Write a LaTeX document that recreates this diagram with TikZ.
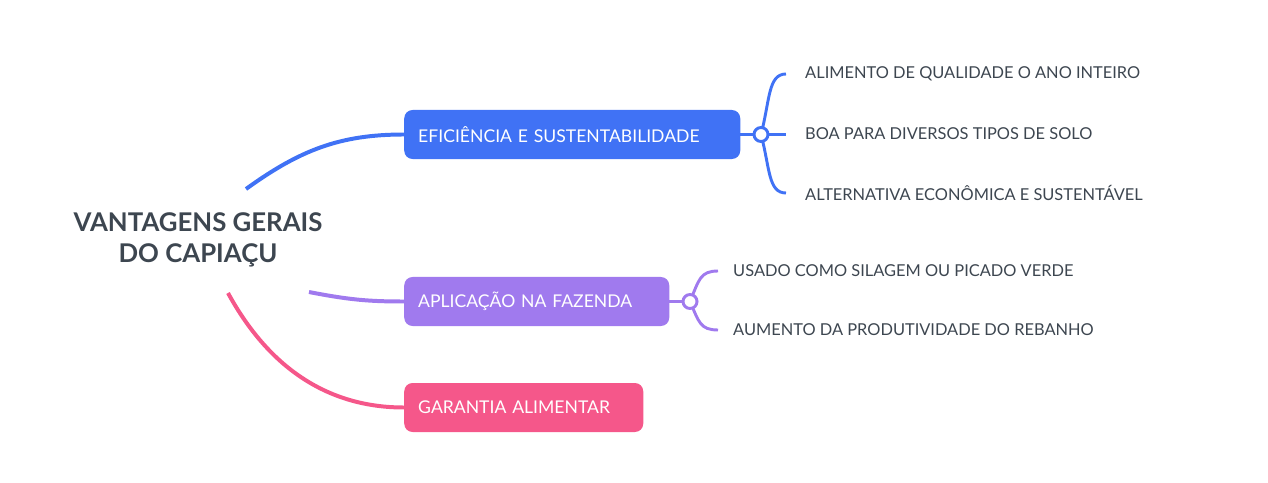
\documentclass[tikz,border=0pt]{standalone}
\usepackage{fontspec}
\setmainfont{Lato}
\definecolor{blu}{RGB}{64,114,245}
\definecolor{pur}{RGB}{160,122,238}
\definecolor{pnk}{RGB}{245,87,138}
\definecolor{ink}{RGB}{61,70,80}
\begin{document}
\begin{tikzpicture}[x=0.03cm,y=-0.03cm,
    branch/.style={rounded corners=0.25cm, anchor=west, minimum height=1.47cm, inner xsep=0.42cm,
      align=left, text=white, font=\fontsize{15}{18}\selectfont},
    leaf/.style={anchor=west, text=ink, inner sep=0pt, font=\fontsize{14}{17}\selectfont},
    knot/.style={circle, draw, line width=2.5pt, fill=white, inner sep=0pt, minimum size=0.42cm}]
    \useasboundingbox (0,0) rectangle (1268,483);
    % Central topic
    \node[text=ink, align=center, font=\bfseries\fontsize{22}{27}\selectfont] (root) at (198,240) {VANTAGENS GERAIS\\DO CAPIAÇU};
    \coordinate (rb) at (246,189);
    \coordinate (rp) at (309,292);
    \coordinate (rk) at (228,293);
    % Main branches
    \node[branch, fill=blu, text width=9.24cm] (eff) at (404,134.5) {EFICIÊNCIA E SUSTENTABILIDADE};
    \node[branch, fill=pur, text width=7.11cm] (apl) at (404,301.5) {APLICAÇÃO NA FAZENDA};
    \node[branch, fill=pnk, text width=6.33cm] (gar) at (404,407.5) {GARANTIA ALIMENTAR};
    \draw[blu, line width=3.4pt] (rb) .. controls (300,150) and (340,134.5) .. (eff.west);
    \draw[pur, line width=3.4pt] (rp) .. controls (350,300) and (370,301.5) .. (apl.west);
    \draw[pnk, line width=3.4pt] (rk) .. controls (270,370) and (330,407.5) .. (gar.west);
    % Leaves
    \node[leaf] (e1) at (805,74) {ALIMENTO DE QUALIDADE O ANO INTEIRO};
    \node[leaf] (e2) at (805,134) {BOA PARA DIVERSOS TIPOS DE SOLO};
    \node[leaf] (e3) at (805,193) {ALTERNATIVA ECONÔMICA E SUSTENTÁVEL};
    \node[leaf] (a1) at (733,271) {USADO COMO SILAGEM OU PICADO VERDE};
    \node[leaf] (a2) at (733,330) {AUMENTO DA PRODUTIVIDADE DO REBANHO};
    \coordinate (k1) at (761,134.5);
    \coordinate (k2) at (690,301.5);
    \draw[blu, line width=2.5pt] (eff.east) -- (k1);
    \draw[blu, line width=2.5pt] (k1) .. controls (770,100) and (768,74) .. (786,74);
    \draw[blu, line width=2.5pt] (k1) -- (786,134.5);
    \draw[blu, line width=2.5pt] (k1) .. controls (770,168) and (768,193) .. (786,193);
    \draw[pur, line width=2.5pt] (apl.east) -- (k2);
    \draw[pur, line width=2.5pt] (k2) .. controls (699,280) and (700,271) .. (718,271);
    \draw[pur, line width=2.5pt] (k2) .. controls (699,322) and (700,330) .. (718,330);
    \node[knot, draw=blu] (kb) at (k1) {};
    \node[knot, draw=pur] (kp) at (k2) {};
\end{tikzpicture}
\end{document}
